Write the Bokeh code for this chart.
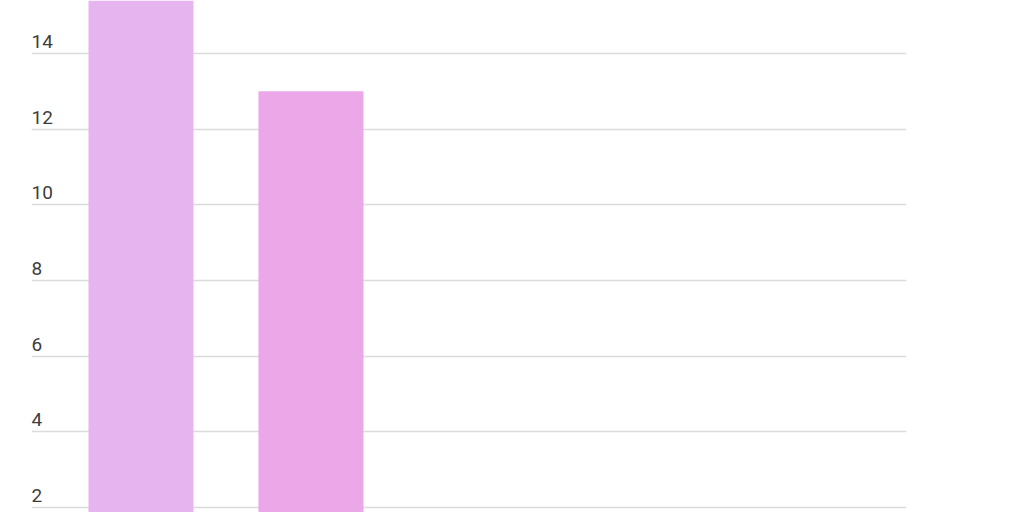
from bokeh.plotting import figure
from bokeh.models import Range1d, FixedTicker, ColumnDataSource
from bokeh.core.properties import value
from bokeh.embed import file_html
from bokeh.resources import INLINE

# --- data ---
categories = ["A", "B"]
values = [16.0, 13.0]
colors = ["#E6B5EF", "#ECA7E8"]
tick_values = [2, 4, 6, 8, 10, 12, 14]
tick_labels = ["2", "4", "6", "8", "10", "12", "14"]

x_pos = list(range(len(categories)))

W, H = 1024, 512
x0, x1 = -0.644, 4.503
p = figure(width=W, height=H, output_backend="svg", toolbar_location=None,
           x_range=Range1d(x0, x1), y_range=Range1d(1.868, 15.40),
           min_border_left=31, min_border_right=118, min_border_top=0, min_border_bottom=0)
p.xaxis.visible = False
p.yaxis.visible = False
p.xgrid.visible = False
p.ygrid.ticker = FixedTicker(ticks=tick_values)
p.ygrid.grid_line_color = "#DCDCDC"
p.ygrid.grid_line_width = 1.5
p.outline_line_color = None
p.background_fill_color = "white"
p.border_fill_color = "white"

src = ColumnDataSource(dict(x=x_pos, top=values, color=colors, cat=categories))
p.vbar(x="x", top="top", bottom=0, width=105 / 170, color="color", source=src, line_color=None)

lab = ColumnDataSource(dict(x=[x0] * len(tick_values), y=tick_values, t=tick_labels))
p.text(x="x", y="y", text="t", source=lab, text_align="left", text_baseline="alphabetic",
       y_offset=-12, text_font=value("Roboto"), text_font_size="19px", text_color="#3D3D3D")

open("out.html", "w").write(file_html(p, INLINE))
